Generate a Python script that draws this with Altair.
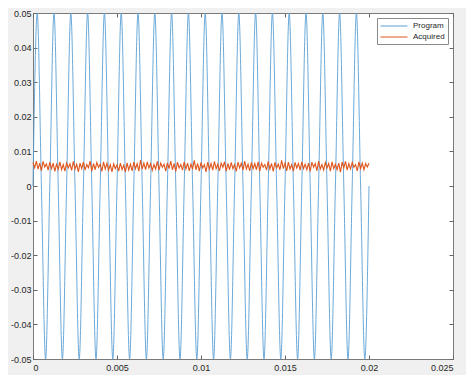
import altair as alt
import pandas as pd

# ---- data ----
series_names = ["Program", "Acquired"]
series_colors = ["#5a9fd5", "#e0561c"]

prog_dt = 0.00025  # quarter period of the 1 kHz program signal
program_values = [
    0, 0.05, 0, -0.05, 0, 0.05, 0, -0.05, 0, 0.05, 0, -0.05, 0, 0.05, 0, -0.05,
    0, 0.05, 0, -0.05, 0, 0.05, 0, -0.05, 0, 0.05, 0, -0.05, 0, 0.05, 0, -0.05,
    0, 0.05, 0, -0.05, 0, 0.05, 0, -0.05, 0, 0.05, 0, -0.05, 0, 0.05, 0, -0.05,
    0, 0.05, 0, -0.05, 0, 0.05, 0, -0.05, 0, 0.05, 0, -0.05, 0, 0.05, 0, -0.05,
    0, 0.05, 0, -0.05, 0, 0.05, 0, -0.05, 0, 0.05, 0, -0.05, 0, 0.05, 0, -0.05,
    0,
]

acq_dt = 0.0001
acquired_values = [
    0.0068, 0.0053, 0.0072, 0.0049, 0.0066, 0.0044, 0.0071, 0.0055, 0.0064, 0.0046,
    0.0069, 0.0050, 0.0066, 0.0042, 0.0063, 0.0048, 0.0070, 0.0047, 0.0062, 0.0043,
    0.0067, 0.0052, 0.0064, 0.0045, 0.0071, 0.0049, 0.0063, 0.0041, 0.0066, 0.0050,
    0.0069, 0.0046, 0.0062, 0.0053, 0.0072, 0.0043, 0.0065, 0.0047, 0.0068, 0.0054,
    0.0063, 0.0042, 0.0070, 0.0049, 0.0066, 0.0046, 0.0062, 0.0041, 0.0064, 0.0050,
    0.0061, 0.0043, 0.0066, 0.0047, 0.0060, 0.0041, 0.0067, 0.0046, 0.0063, 0.0044,
    0.0069, 0.0050, 0.0065, 0.0043, 0.0075, 0.0049, 0.0066, 0.0047, 0.0070, 0.0052,
    0.0065, 0.0045, 0.0062, 0.0049, 0.0071, 0.0046, 0.0066, 0.0054, 0.0063, 0.0043,
    0.0067, 0.0050, 0.0072, 0.0047, 0.0065, 0.0042, 0.0069, 0.0052, 0.0062, 0.0046,
    0.0070, 0.0049, 0.0066, 0.0044, 0.0063, 0.0050, 0.0074, 0.0047, 0.0065, 0.0043,
    0.0068, 0.0052, 0.0062, 0.0041, 0.0069, 0.0049, 0.0065, 0.0046, 0.0071, 0.0050,
    0.0063, 0.0044, 0.0066, 0.0054, 0.0070, 0.0043, 0.0065, 0.0047, 0.0068, 0.0050,
    0.0062, 0.0042, 0.0069, 0.0052, 0.0066, 0.0046, 0.0072, 0.0049, 0.0063, 0.0044,
    0.0068, 0.0050, 0.0065, 0.0047, 0.0070, 0.0043, 0.0066, 0.0054, 0.0062, 0.0046,
    0.0071, 0.0049, 0.0065, 0.0042, 0.0068, 0.0052, 0.0063, 0.0047, 0.0074, 0.0050,
    0.0066, 0.0044, 0.0069, 0.0049, 0.0062, 0.0043, 0.0068, 0.0052, 0.0065, 0.0046,
    0.0070, 0.0050, 0.0063, 0.0047, 0.0066, 0.0042, 0.0069, 0.0054, 0.0065, 0.0044,
    0.0072, 0.0049, 0.0062, 0.0046, 0.0068, 0.0052, 0.0065, 0.0043, 0.0070, 0.0050,
    0.0063, 0.0047, 0.0066, 0.0040, 0.0069, 0.0052, 0.0071, 0.0046, 0.0065, 0.0049,
    0.0068, 0.0054, 0.0062, 0.0044, 0.0070, 0.0050, 0.0066, 0.0047, 0.0065, 0.0055,
    0.0066,
]

x_ticks = [0, 0.005, 0.01, 0.015, 0.02, 0.025]
y_ticks = [-0.05, -0.04, -0.03, -0.02, -0.01, 0, 0.01, 0.02, 0.03, 0.04, 0.05]

# ---- tables ----
prog_df = pd.DataFrame({
    "t": [i * prog_dt for i in range(len(program_values))],
    "v": program_values,
    "series": series_names[0],
})
acq_df = pd.DataFrame({
    "t": [i * acq_dt for i in range(len(acquired_values))],
    "v": acquired_values,
    "series": series_names[1],
})

xs = alt.Scale(domain=[0, 0.025], nice=False, zero=False)
ys = alt.Scale(domain=[-0.05, 0.05], nice=False, zero=False)
color = alt.Color("series:N",
                  scale=alt.Scale(domain=series_names, range=series_colors),
                  title=None)

common = dict(tickSize=4, offset=-4, domain=False, grid=False,
              tickColor="#666666", tickWidth=1)
ax_bottom = alt.Axis(orient="bottom", values=x_ticks,
                     labelExpr="toString(datum.value)", labelPadding=4, **common)
ax_left = alt.Axis(orient="left", values=y_ticks,
                   labelExpr="toString(datum.value)", labelPadding=2, **common)
ax_top = alt.Axis(orient="top", values=x_ticks, labels=False, **common)
ax_right = alt.Axis(orient="right", values=y_ticks, labels=False, **common)

prog = alt.Chart(prog_df).mark_line(strokeWidth=0.9, interpolate="monotone").encode(
    x=alt.X("t:Q", scale=xs, axis=ax_bottom, title=None),
    y=alt.Y("v:Q", scale=ys, axis=ax_left, title=None),
    color=color,
    order=alt.Order("t:Q"),
)

acq = alt.Chart(acq_df).mark_line(strokeWidth=1.1).encode(
    x=alt.X("t:Q", scale=xs, axis=ax_top, title=None),
    y=alt.Y("v:Q", scale=ys, axis=ax_right, title=None),
    color=color,
    order=alt.Order("t:Q"),
)

chart = alt.layer(prog, acq).resolve_axis(
    x="independent", y="independent"
).properties(
    width=420,
    height=346,
    autosize="none",
    padding={"left": 25, "top": 5, "right": 13, "bottom": 16},
    background="#f0f0f0",
).configure_view(
    fill="white", stroke="#7a7a7a", strokeWidth=1
).configure_axis(
    labelFont="Liberation Sans", labelFontSize=9, labelColor="#262626"
).configure_legend(
    orient="top-right", offset=5, padding=3,
    fillColor="white", strokeColor="#8a8a8a",
    labelFont="Liberation Sans", labelFontSize=8, labelColor="#262626",
    symbolType="M-3,0H3", symbolSize=81, symbolStrokeWidth=1,
    symbolOffset=9, labelOffset=14, rowPadding=2,
)

chart.save("out.html", embed_options={"renderer": "svg", "actions": False})
